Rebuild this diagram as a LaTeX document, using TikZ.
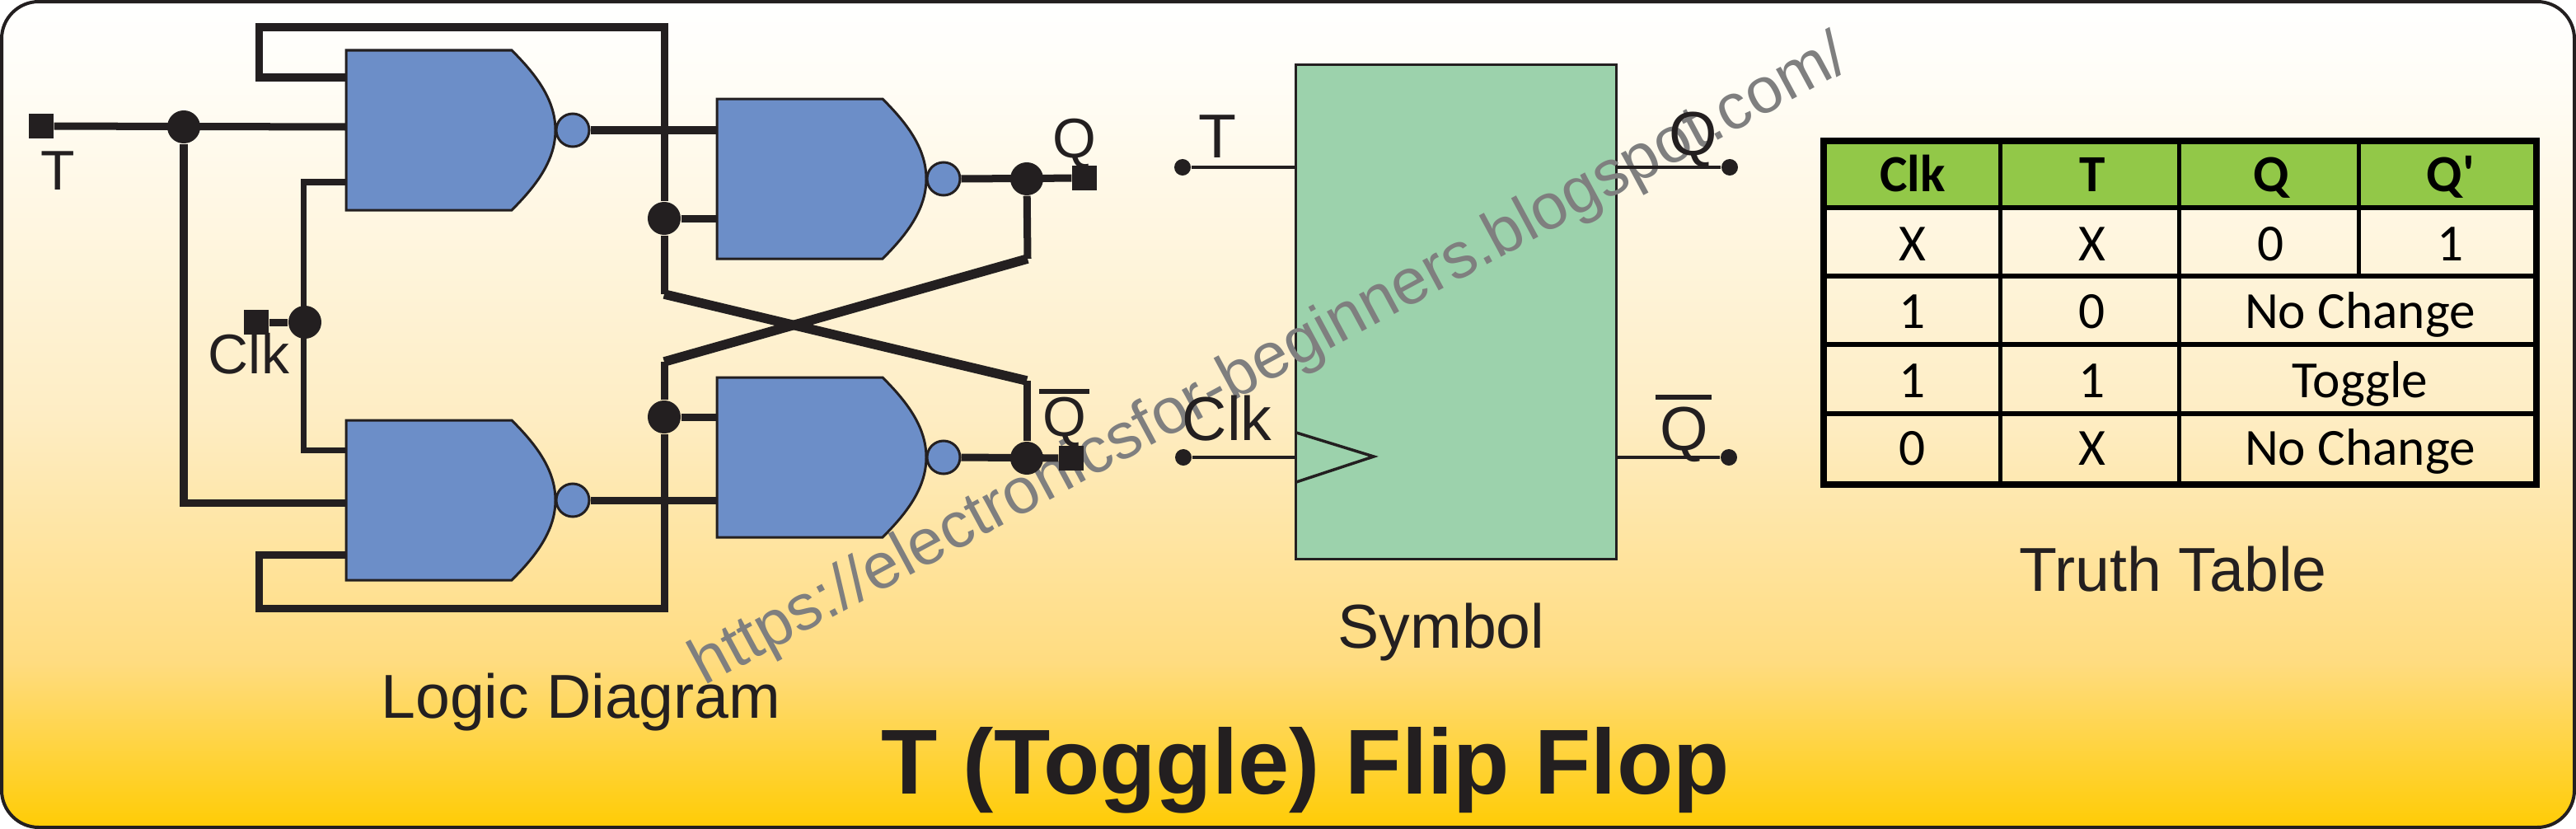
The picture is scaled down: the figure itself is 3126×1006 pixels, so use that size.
\documentclass[tikz,border=0pt]{standalone}
\usepackage{fontspec}
\setmainfont{Liberation Sans}
\newfontfamily\tablefont{Carlito}
\definecolor{inkc}{HTML}{231F20}
\definecolor{gatec}{HTML}{6C8EC8}
\definecolor{boxc}{HTML}{9CD2AC}
\definecolor{headc}{HTML}{92C848}
\definecolor{markc}{HTML}{7F7F7F}
\definecolor{goldA}{HTML}{FFCC05}
\definecolor{goldB}{HTML}{FFDC80}
\definecolor{goldC}{HTML}{FEEDC4}
\definecolor{goldD}{HTML}{FFFDF6}
\pgfdeclareverticalshading{bgshade}{100bp}{color(0bp)=(goldA); color(25bp)=(goldA); color(35bp)=(goldB); color(50bp)=(goldC); color(70bp)=(goldD); color(75bp)=(white); color(100bp)=(white)}
\tikzset{
    wire/.style={line width=0.09cm,color=inkc},
    thinwire/.style={line width=0.035cm,color=inkc},
    jointdot/.style={circle,fill=inkc,inner sep=0pt,minimum size=0.4cm},
    pindot/.style={circle,fill=inkc,inner sep=0pt,minimum size=0.2cm},
    pinsquare/.style={rectangle,fill=inkc,inner sep=0pt,minimum size=0.3cm},
    bubble/.style={circle,draw=inkc,fill=gatec,line width=0.03cm,inner sep=0pt,minimum size=0.4cm},
    bigtext/.style={anchor=base,inner sep=0pt,text=inkc,font=\fontsize{21.4}{25}\selectfont},
    smalltext/.style={anchor=base,inner sep=0pt,text=inkc,font=\fontsize{19.3}{22}\selectfont},
    cell/.style={anchor=base,inner sep=0pt,text=black,font=\tablefont\fontsize{18}{22}\selectfont},
    headcell/.style={cell,font=\tablefont\bfseries\fontsize{18}{22}\selectfont},
    tabline/.style={line width=0.065cm,color=black},
}
% gate body with its bubble: name, left edge, middle
\newcommand{\nandgate}[3]{
    \filldraw [draw=inkc,fill=gatec,line width=0.03cm] (#2,#3-97) -- (#2+201,#3-97)
        .. controls (#2+229,#3-69) and (#2+254,#3-38) .. (#2+254,#3)
        .. controls (#2+254,#3+38) and (#2+229,#3+69) .. (#2+201,#3+97) -- (#2,#3+97) -- cycle;
    \node [bubble] (#1) at (#2+275,#3) {};
}
\begin{document}
\begin{tikzpicture}[x=0.01cm,y=-0.01cm]
    \useasboundingbox (0,0) rectangle (3126,1006);
    \shade [shading=bgshade] (2,2) [rounded corners=0.45cm] rectangle (3124,1004);
    \draw [inkc,line width=0.04cm,rounded corners=0.45cm] (2,2) rectangle (3124,1004);

    % symbol box, then the site name across the picture
    \node [draw=inkc,fill=boxc,line width=0.03cm,inner sep=0pt,minimum width=3.88cm,minimum height=5.99cm] (ff) at (1767,378.5) {};
    \node [rotate=28.3,anchor=base west,inner sep=0pt,text=markc,font=\fontsize{22.3}{27}\selectfont] (sitename) at (854,833) {https://electronicsfor-beginners.blogspot.com/};

    % logic diagram
    \nandgate{gA}{420}{158}
    \nandgate{gB}{870}{217}
    \nandgate{gC}{420}{607}
    \nandgate{gD}{870}{555}

    \node [jointdot] (tdot) at (223,154) {};
    \node [jointdot] (clkdot) at (370,391) {};
    \node [jointdot] (qdot) at (1246,217) {};
    \node [jointdot] (qbdot) at (1246,556) {};
    \node [jointdot] (fbA) at (806,265) {};
    \node [jointdot] (fbB) at (806,506) {};
    \node [pinsquare] (tpin) at (50,153) {};
    \node [pinsquare] (clkpin) at (311,391) {};
    \node [pinsquare] (qpin) at (1316,216) {};
    \node [pinsquare] (qbpin) at (1300,556) {};

    \coordinate (gAa) at (420,94);
    \coordinate (gAb) at (420,154);
    \coordinate (gAc) at (368,221);
    \coordinate (gCa) at (368,546);
    \coordinate (gCb) at (420,610);
    \coordinate (gCc) at (420,673);
    \coordinate (topL) at (314,33);
    \coordinate (topR) at (806,33);
    \coordinate (botL) at (314,738);
    \coordinate (botR) at (806,738);
    \coordinate (crossA) at (806,357);
    \coordinate (crossB) at (1246,462);
    \coordinate (crossC) at (1247,314);
    \coordinate (crossD) at (806,439);

    \draw [wire] (tpin) -- (gAb);
    \draw [wire] (tdot) |- (gCb);
    \draw [wire,line width=0.07cm] (gAc -| 420,0) -- (gAc) -- (gCa) -- (gCa -| 420,0);
    \draw [wire] (clkpin) -- (clkdot);
    \draw [wire] (gAa) -- (gAa -| topL) -- (topL) -- (topR) -- (fbA);
    \draw [wire] (fbA) -- (crossA);
    \draw [wire,line width=0.115cm] (crossA) -- (crossB);
    \draw [wire] (crossB) -- (qbdot);
    \draw [wire] (gCc) -- (gCc -| botL) -- (botL) -- (botR) -- (fbB);
    \draw [wire] (fbB) -- (crossD);
    \draw [wire,line width=0.115cm] (crossD) -- (crossC);
    \draw [wire] (crossC) -- (qdot);
    \draw [wire] (gA.east) -- (gA.east -| 870,0);
    \draw [wire] (gC.east) -- (gC.east -| 870,0);
    \draw [wire] (fbA) -- (fbA -| 870,0);
    \draw [wire] (fbB) -- (fbB -| 870,0);
    \draw [wire] (gB.east) -- (qpin);
    \draw [wire] (gD.east) -- (qbpin);

    \node [smalltext] (tlabel) at (70,230) {T};
    \node [smalltext] (clklabel) at (302,453) {Clk};
    \node [smalltext] (qlabel) at (1304,191) {Q};
    \node [smalltext] (qblabel) at (1292,529) {Q};
    \draw [inkc,line width=0.055cm] (1261,475) -- (1322,475);
    \node [bigtext] (logiclabel) at (705,871) {Logic Diagram};

    % symbol
    \node [pindot] (symT) at (1435,203) {};
    \node [pindot] (symQ) at (2099,203) {};
    \node [pindot] (symClk) at (1436,555) {};
    \node [pindot] (symQb) at (2098,555) {};
    \coordinate (clkA) at (1573,525);
    \coordinate (clkB) at (1667,554);
    \coordinate (clkC) at (1573,585);
    \draw [thinwire] (symT) -- (symT -| ff.west);
    \draw [thinwire] (symQ) -- (symQ -| ff.east);
    \draw [thinwire] (symClk) -- (symClk -| ff.west);
    \draw [thinwire] (symQb) -- (symQb -| ff.east);
    \draw [thinwire] (clkA) -- (clkB) -- (clkC);

    \node [bigtext] (symTlabel) at (1477,191) {T};
    \node [bigtext] (symQlabel) at (2055,188) {Q};
    \node [bigtext] (symClklabel) at (1489,534) {Clk};
    \node [bigtext] (symQblabel) at (2044,546) {Q};
    \draw [inkc,line width=0.06cm] (2009,482) -- (2077,482);
    \node [bigtext] (symbollabel) at (1749,786) {Symbol};

    % truth table
    \fill [headc] (2213,171) rectangle (3078,252);
    \draw [tabline,line width=0.08cm] (2213,171) rectangle (3078,588);
    \foreach \y in {252,335,418,502}
        \draw [tabline] (2213,\y) -- (3078,\y);
    \foreach \x in {2427,2644}
        \draw [tabline,line width=0.05cm] (\x,171) -- (\x,588);
    \draw [tabline,line width=0.05cm] (2862,171) -- (2862,335);

    \foreach \x/\txt [count=\i] in {2321/Clk,2539/T,2756/Q,2974/Q'}
        \node [headcell] (head\i) at (\x,232) {\txt};
    \foreach \x/\y/\txt [count=\i] in {2321/316/X,2539/316/X,2756/316/0,2974/316/1,
        2321/398/1,2539/398/0,2864/398/No Change,
        2321/482/1,2539/482/1,2864/482/Toggle,
        2321/564/0,2539/564/X,2864/564/No Change}
        \node [cell] (cell\i) at (\x,\y) {\txt};
    \node [bigtext] (tablelabel) at (2637,717) {Truth Table};

    \node [anchor=base,inner sep=0pt,text=inkc,font=\bfseries\fontsize{31.8}{38}\selectfont] (title) at (1584,963) {T (Toggle) Flip Flop};
\end{tikzpicture}
\end{document}
